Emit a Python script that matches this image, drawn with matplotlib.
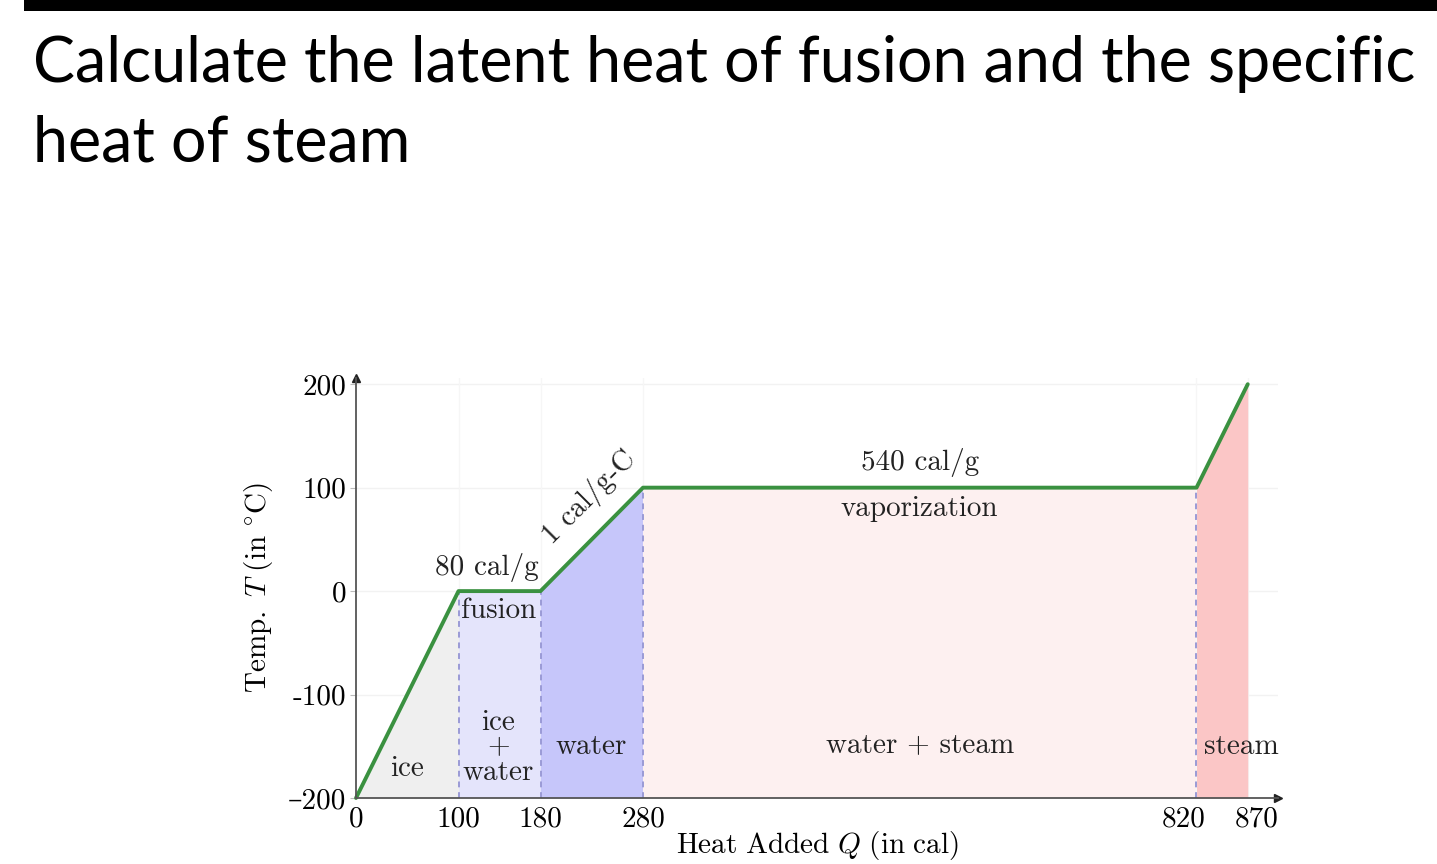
import matplotlib
matplotlib.use("Agg")
import matplotlib.pyplot as plt
import matplotlib.transforms as mtransforms
from matplotlib.patches import Rectangle

# ---- data ----
heat_q = [0, 100, 180, 280, 820, 870]
temp_t = [-200, 0, 0, 100, 100, 200]
x_ticks = [0, 100, 180, 280, 820, 870]
x_tick_labels = ["0", "100", "180", "280", "820", "870"]
y_ticks = [-200, -100, 0, 100, 200]
y_tick_labels = ["\u2013200", "-100", "0", "100", "200"]
phase_colors = ["#efefef", "#e4e4fb", "#c6c6fa", "#fdf0f0", "#fbc6c6"]
title_lines = ["Calculate the latent heat of fusion and the specific", "heat of steam"]

W, H = 1437, 864
fig = plt.figure(figsize=(W / 100, H / 100), dpi=100)
fig.patch.set_facecolor("white")

# black bar on top
fig.patches.append(Rectangle((24 / W, 1 - 11 / H), 1, 11 / H, transform=fig.transFigure,
                             facecolor="black", edgecolor="none"))

serif = ["cmr10", "DejaVu Serif"]
plt.rcParams["mathtext.fontset"] = "cm"
plt.rcParams["axes.unicode_minus"] = False

# title
tt = fig.text(33 / W, 1 - 82 / H, title_lines[0], family=["Lato", "DejaVu Sans"],
              fontsize=48, ha="left", va="baseline")
fig.canvas.draw()
bb = tt.get_window_extent()
target = 1413 - 33
fs = 48 * target / bb.width
tt.set_fontsize(fs)
fig.text(33 / W, 1 - 162 / H, title_lines[1], family=["Lato", "DejaVu Sans"],
         fontsize=fs, ha="left", va="baseline")

# axes
x0, x1 = 356, 1278.5
y_bot, y_top = 798, 378
ax = fig.add_axes([x0 / W, (H - y_bot) / H, (x1 - x0) / W, (y_bot - y_top) / H])
ax.set_xlim(0, 900)
ax.set_ylim(-200, 206)
ax.set_facecolor("white")

# faint grid
for yv in [-100, 0, 100, 200]:
    ax.axhline(yv, color="#f2f2f2", lw=1, zorder=0)
for xv in [100, 180, 280, 820, 870]:
    ax.axvline(xv, color="#f6f6f6", lw=1, zorder=0)

# phase fills under the curve
for i in range(len(heat_q) - 1):
    ax.fill_between(heat_q[i:i + 2], temp_t[i:i + 2], -200, color=phase_colors[i],
                    lw=0, zorder=1)

# dashed separators
for i in range(1, len(heat_q) - 1):
    ax.plot([heat_q[i], heat_q[i]], [-200, temp_t[i]], color="#9a9ad6", lw=1.4,
            ls=(0, (3, 2.5)), zorder=2)

# curve
ax.plot(heat_q, temp_t, color="#3a9140", lw=2.8, zorder=4, solid_capstyle="round",
        clip_on=False)

# spines and arrows
for s in ["top", "right"]:
    ax.spines[s].set_visible(False)
for s in ["left", "bottom"]:
    ax.spines[s].set_color("#555555")
    ax.spines[s].set_linewidth(1.3)
    ax.spines[s].set_zorder(5)
ax.plot([1], [0], marker=">", color="#222222", ms=6, transform=ax.transAxes, clip_on=False)
ax.plot([0], [1], marker="^", color="#222222", ms=6, transform=ax.transAxes, clip_on=False)

ax.set_xticks(x_ticks)
ax.set_xticklabels(x_tick_labels, family=serif, fontsize=21)
ax.set_yticks(y_ticks)
ax.set_yticklabels(y_tick_labels, family=serif, fontsize=21)
ax.tick_params(axis="x", length=0, pad=6)
ax.tick_params(axis="y", length=4, width=0.8, color="#bbbbbb", pad=3)

# nudge the two crowded labels apart, as in the reference
shifts = {"820": -13, "870": 9}
for lab in ax.get_xticklabels():
    dx = shifts.get(lab.get_text(), 0)
    if dx:
        lab.set_transform(lab.get_transform() +
                          mtransforms.ScaledTranslation(dx / 100, 0, fig.dpi_scale_trans))

ax.set_xlabel(r"$\mathrm{Heat\ Added}\ Q\ \mathrm{(in\ cal)}$", fontsize=21, labelpad=-3)
ax.set_ylabel(r"$\mathrm{Temp.}\ T\ \mathrm{(in\ }^{\circ}\mathrm{C)}$", fontsize=21, labelpad=9)

tk = dict(family=serif, fontsize=21, ha="center", va="center", color="#222222", zorder=6)
ax.text(128, 23, "80 cal/g", **tk)
ax.text(139, -19, "fusion", **tk)
ax.text(227, 91, "1 cal/g-C", rotation=45, rotation_mode="anchor", **tk)
ax.text(550, 124, "540 cal/g", **tk)
ax.text(550, 80, "vaporization", **tk)
ax.text(50, -172, "ice", **tk)
ax.text(139, -127, "ice", **tk)
ax.text(139, -151, "+", **tk)
ax.text(139, -176, "water", **tk)
ax.text(229, -151, "water", **tk)
ax.text(550, -149, "water + steam", **tk)
ax.text(864, -151, "steam", **tk)

fig.savefig("out.png", dpi=100)
